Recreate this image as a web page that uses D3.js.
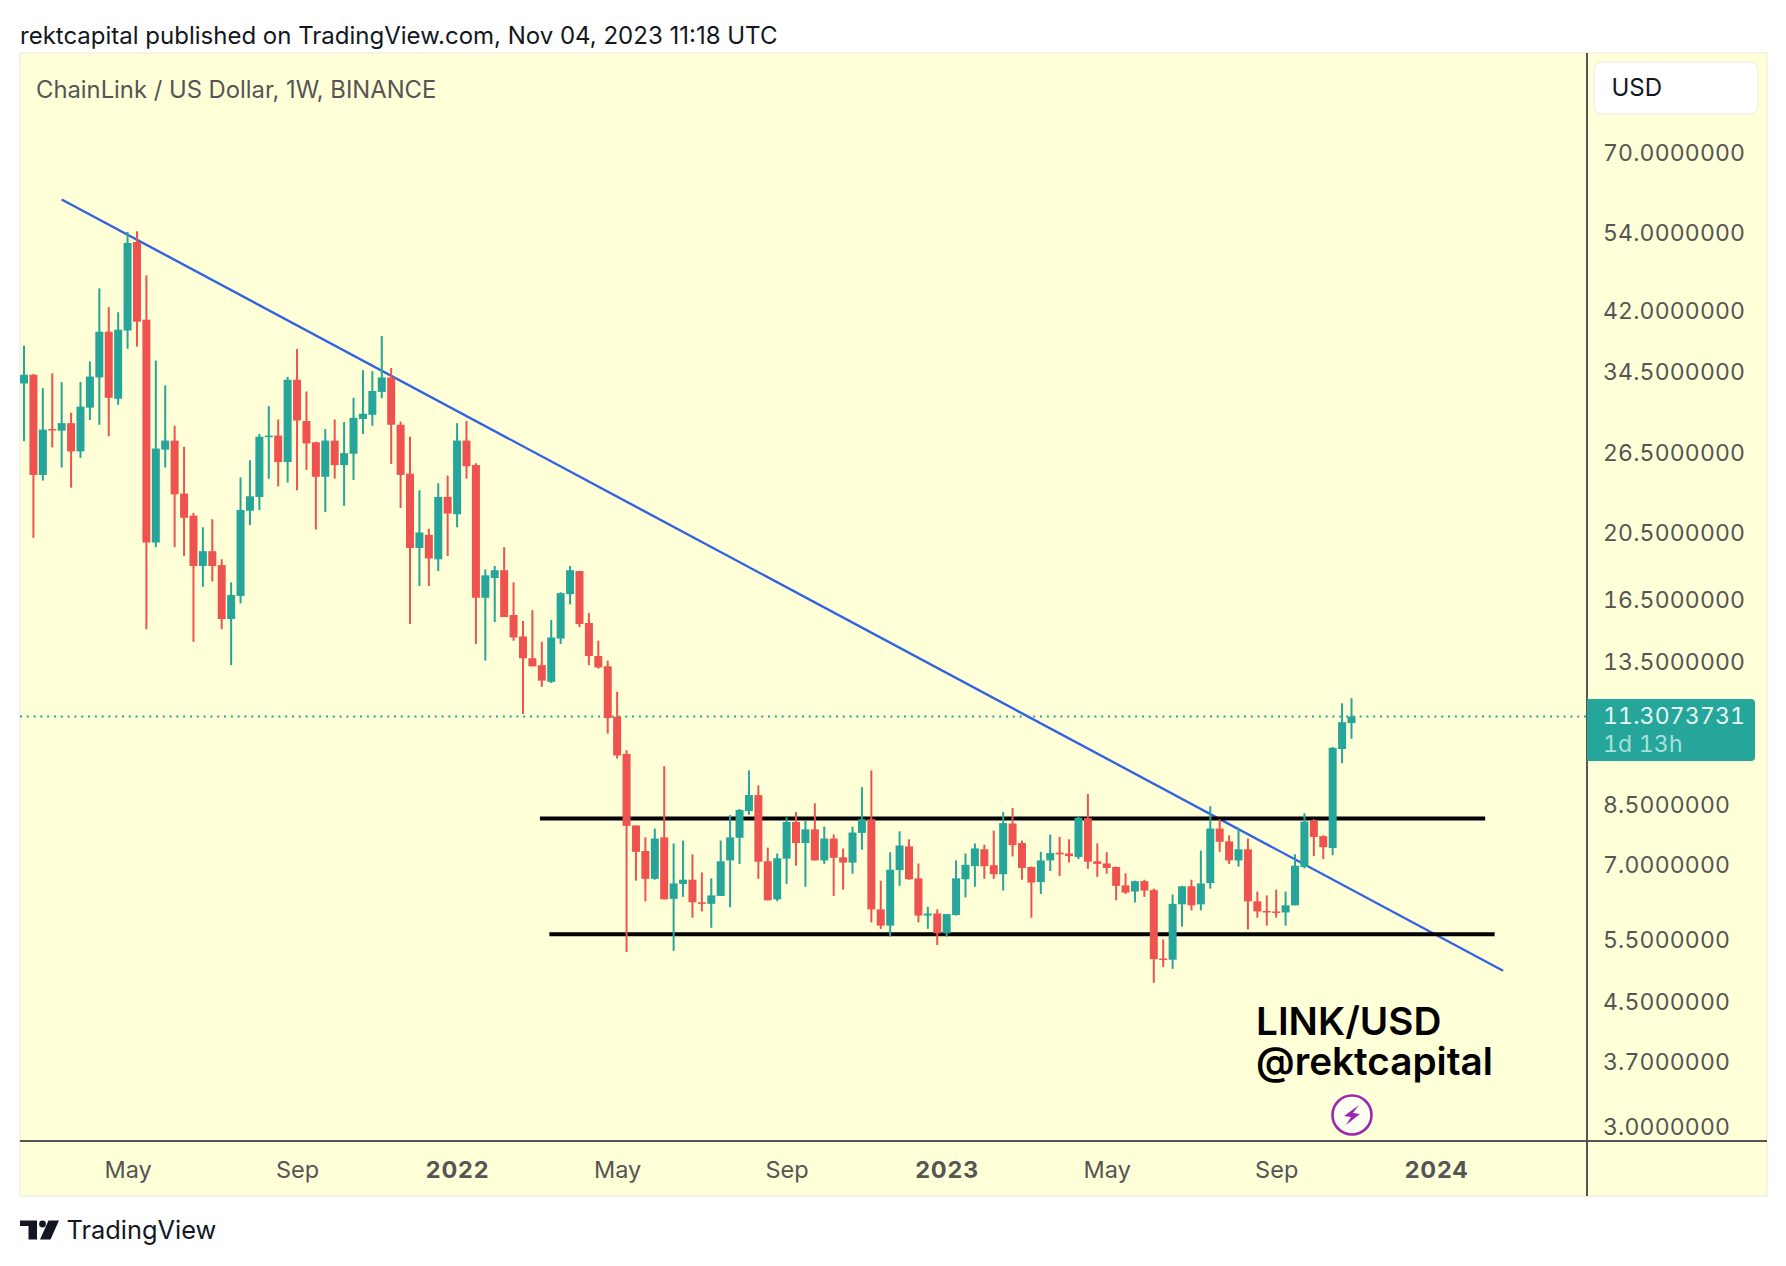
<!DOCTYPE html>
<html lang="en">

<head>
    <meta charset="UTF-8">
    <title>LINK/USD weekly</title>
    <script src="https://cdn.jsdelivr.net/npm/d3@7"></script>
    <style>
        body {
            margin: 0;
            padding: 0;
            background: #fff;
            overflow: hidden;
        }

        svg {
            display: block;
            font-family: Inter, sans-serif;
        }

        .tnum {
            font-variant-numeric: tabular-nums;
            font-feature-settings: "tnum" 1;
        }
    </style>
</head>

<body>
    <svg id="chart" width="1786" height="1266"></svg>

    <script>
        // weekly bars, first bar mid Feb 2021, last bar is the live one
        var open = [33.2,34.15,24.7,28.65,28.5,29.2,26.65,30.7,33.85,39.25,
            31.6,39.4,52.45,40.8,19.85,26.8,27.6,23.25,21.65,18.4,
            19.3,18.45,15.5,16.7,22.0,23.0,27.9,28.05,25.75,33.6,
            29.4,27.45,24.55,27.6,25.5,26.45,29.6,30.0,32.3,33.85,
            29.05,24.8,19.5,20.35,18.8,23.0,21.75,27.6,25.5,16.6,
            17.7,18.15,15.7,14.65,13.65,13.35,12.65,14.55,16.8,18.1,
            15.3,13.75,13.3,11.3,10.02,7.95,7.32,6.69,7.65,6.27,
            6.58,6.67,6.2,6.17,6.33,7.1,7.64,8.33,8.77,7.08,
            6.26,7.14,8.04,7.51,7.85,7.1,7.62,7.17,7.05,7.76,
            8.11,6.06,5.75,6.88,7.43,6.7,5.94,5.98,5.61,5.95,
            6.68,6.97,7.36,6.99,6.79,8.0,7.51,6.95,6.62,7.1,
            7.28,7.26,7.18,8.14,7.08,7.03,6.95,6.55,6.42,6.64,
            6.45,5.17,5.15,6.16,6.53,6.16,6.6,7.87,7.55,7.1,
            7.36,6.22,6.03,6.02,6.0,6.14,6.95,8.07,7.68,7.39,
            10.18,11.07];
        var high = [37.5,34.25,32.7,34.3,33.35,30.2,33.35,35.65,45.15,42.5,
            41.8,54.2,54.3,47.1,35.75,33.0,28.95,27.05,21.85,20.85,
            21.4,18.8,17.45,24.5,25.9,28.2,30.85,29.55,33.9,37.1,
            32.35,27.5,28.65,29.55,29.3,31.7,34.65,34.55,38.7,34.9,
            29.35,27.95,23.5,20.75,24.05,24.65,29.2,29.4,25.65,18.2,
            18.4,19.55,17.45,15.4,15.95,14.4,15.45,16.9,18.4,18.1,
            15.8,14.45,13.55,12.25,10.14,7.95,7.65,7.87,9.63,7.5,
            7.57,7.24,6.83,6.7,7.57,8.22,8.38,9.5,9.05,7.4,
            7.26,8.16,8.3,8.07,8.54,7.92,7.72,7.38,7.92,9.0,
            9.5,6.65,7.29,7.8,7.6,7.03,6.11,6.06,5.97,7.1,
            7.26,7.5,7.47,7.82,8.3,8.41,7.57,6.96,7.3,7.72,
            7.66,7.6,8.19,8.8,7.5,7.29,6.96,6.81,6.65,6.67,
            6.48,5.5,6.36,6.54,6.67,7.33,8.46,8.11,7.7,7.89,
            7.62,6.42,6.34,6.46,6.42,7.24,8.27,8.11,7.7,10.25,
            11.8,12.0];
        var low = [27.55,20.15,24.25,27.0,25.3,23.7,26.1,29.5,29.05,28.0,
            31.0,37.15,37.4,15.0,19.55,25.3,19.55,19.0,14.4,17.2,
            17.5,15.0,13.35,16.3,21.0,22.05,24.4,23.8,24.1,23.5,
            25.1,20.7,21.9,24.4,22.35,24.3,28.2,28.95,31.65,25.6,
            22.2,15.25,17.25,17.25,18.1,19.0,20.85,24.4,14.3,13.55,
            15.35,15.6,14.45,11.4,13.3,12.45,12.6,14.3,16.25,15.1,
            13.35,13.2,10.7,9.87,5.28,6.65,6.22,6.67,6.26,5.3,
            6.31,5.9,6.02,5.71,6.33,6.1,7.02,8.23,6.69,6.24,
            6.22,6.58,6.98,6.52,7.1,7.02,6.33,6.46,6.8,7.35,
            5.81,5.69,5.55,6.54,6.67,5.81,5.69,5.4,5.55,5.94,
            6.3,6.52,6.69,6.69,6.44,7.19,6.67,5.9,6.37,6.86,
            6.75,7.05,7.13,6.91,6.73,6.8,6.24,6.37,6.2,6.31,
            4.78,5.03,5.0,5.73,6.04,6.04,6.48,7.3,7.02,6.96,
            5.68,5.9,5.75,5.9,5.75,6.14,6.92,7.2,7.13,7.22,
            9.72,10.52];
        var close = [34.15,24.7,28.6,28.55,29.2,26.65,30.8,33.95,39.25,31.7,
            39.5,52.3,40.55,19.85,26.9,27.6,23.2,21.5,18.4,19.3,
            18.4,15.5,16.75,22.05,23.05,27.95,28.05,25.75,33.6,29.45,
            27.35,24.55,27.6,25.5,26.5,29.7,30.1,32.4,33.85,29.05,
            24.7,19.5,20.5,18.85,23.0,21.8,27.6,25.4,16.6,17.85,
            18.15,15.6,14.6,13.65,13.3,12.7,14.6,16.85,18.15,15.25,
            13.75,13.25,11.25,9.97,7.94,7.3,6.69,7.62,6.26,6.59,
            6.67,6.2,6.17,6.34,7.08,7.65,8.36,8.77,7.07,6.24,
            7.15,8.04,7.51,7.85,7.1,7.62,7.16,7.05,7.77,8.11,
            6.06,5.75,6.89,7.45,6.68,5.94,5.98,5.61,5.97,6.7,
            7.0,7.38,6.97,6.79,8.01,7.46,6.93,6.61,7.1,7.27,
            7.24,7.2,8.15,7.07,7.02,6.93,6.54,6.4,6.64,6.44,
            5.16,5.15,6.17,6.53,6.14,6.59,7.87,7.54,7.1,7.36,
            6.22,6.02,6.0,6.0,6.14,6.98,8.05,7.66,7.41,10.22,
            11.1,11.31];

        var priceTicks = [70, 54, 42, 34.5, 26.5, 20.5, 16.5, 13.5, 8.5, 7, 5.5, 4.5, 3.7, 3];
        var timeTickBars = [11, 29, 46, 63, 81, 98, 115, 133, 150];
        var timeTickLabels = ["May", "Sep", "2022", "May", "Sep", "2023", "May", "Sep", "2024"];
        var lastPrice = 11.3073731;

        // drawings on the chart, [bar, price]
        var trendLine = [[4, 60.2], [157.1, 4.97]];
        var rangeTop = [[54.8, 8.13], [155.2, 8.13]];
        var rangeBottom = [[55.8, 5.59], [156.2, 5.59]];

        var svg = d3.select("#chart");
        var upColor = "#26a69a", downColor = "#ef5350";
        var textColor = "#555555";

        var frameL = 20, frameR = 1767, frameT = 53, frameB = 1196;
        var axisX = 1587, axisY = 1141;

        var xScale = d3.scaleLinear().domain([0, 141]).range([24, 1351.5]);
        var yScale = d3.scaleLog().domain([70, 3]).range([152.8, 1126.8]);

        // frame
        svg.append("rect")
            .attr("x", frameL).attr("y", frameT)
            .attr("width", frameR - frameL).attr("height", frameB - frameT)
            .attr("fill", "#ffffd8").attr("stroke", "#f1f1e4").attr("stroke-width", 1.5);

        // current price line
        svg.append("line")
            .attr("x1", frameL).attr("x2", axisX)
            .attr("y1", yScale(lastPrice)).attr("y2", yScale(lastPrice))
            .attr("stroke", upColor).attr("stroke-width", 2).attr("stroke-dasharray", "2 4.8");

        var drawing = d3.line().x(d => xScale(d[0])).y(d => yScale(d[1]));

        svg.append("path").attr("d", drawing(trendLine))
            .attr("fill", "none").attr("stroke", "#3363e4").attr("stroke-width", 2.4);

        [rangeTop, rangeBottom].forEach(r => {
            svg.append("path").attr("d", drawing(r))
                .attr("fill", "none").attr("stroke", "#000").attr("stroke-width", 4);
        });

        // candles
        var bars = open.map((o, i) => ({ i: i, o: o, h: high[i], l: low[i], c: close[i] }));
        var barWidth = 8;
        var candle = svg.append("g").selectAll("g").data(bars).join("g")
            .attr("fill", d => d.c >= d.o ? upColor : downColor);

        candle.append("rect")
            .attr("x", d => xScale(d.i) - 1)
            .attr("width", 2)
            .attr("y", d => yScale(d.h))
            .attr("height", d => yScale(d.l) - yScale(d.h));

        candle.append("rect")
            .attr("x", d => xScale(d.i) - barWidth / 2)
            .attr("width", barWidth)
            .attr("y", d => yScale(Math.max(d.o, d.c)))
            .attr("height", d => Math.max(1.5, Math.abs(yScale(d.o) - yScale(d.c))));

        // axis border lines
        svg.append("line").attr("x1", frameL).attr("x2", frameR).attr("y1", axisY).attr("y2", axisY)
            .attr("stroke", textColor).attr("stroke-width", 2);
        svg.append("line").attr("x1", axisX).attr("x2", axisX).attr("y1", frameT).attr("y2", frameB)
            .attr("stroke", textColor).attr("stroke-width", 2);

        // price axis
        var yAxis = svg.append("g")
            .attr("transform", "translate(" + axisX + ",0.4)")
            .call(d3.axisRight(yScale).tickValues(priceTicks).tickSize(0).tickPadding(16)
                .tickFormat(d => d.toFixed(7)));
        yAxis.select(".domain").remove();
        yAxis.selectAll("text")
            .attr("class", "tnum")
            .attr("fill", textColor).attr("font-size", 23).attr("letter-spacing", 0.18)
            .attr("font-family", "Inter, sans-serif");

        // time axis
        var xAxis = svg.append("g")
            .attr("transform", "translate(0," + axisY + ")")
            .call(d3.axisBottom(xScale).tickValues(timeTickBars).tickSize(0).tickPadding(20)
                .tickFormat((d, i) => timeTickLabels[i]));
        xAxis.select(".domain").remove();
        xAxis.selectAll("text")
            .attr("fill", textColor).attr("font-size", 23.5)
            .attr("font-family", "Inter, sans-serif")
            .attr("font-weight", (d, i) => timeTickLabels[i].length == 4 ? 700 : 400)
            .attr("letter-spacing", (d, i) => timeTickLabels[i].length == 4 ? 0.8 : 0);

        // last price tag
        svg.append("path")
            .attr("d", "M" + axisX + ",699H1751a4,4 0 0 1 4,4V757a4,4 0 0 1 -4,4H" + axisX + "Z")
            .attr("fill", upColor);
        svg.append("text").attr("x", 1603).attr("y", 723.5).attr("class", "tnum")
            .attr("fill", "#e6f6f4").attr("font-size", 23).attr("letter-spacing", 0.18)
            .text(lastPrice.toFixed(7));
        svg.append("text").attr("x", 1603).attr("y", 751.5).attr("class", "tnum")
            .attr("fill", "#a8e0da").attr("font-size", 23).attr("letter-spacing", 0.18)
            .text("1d 13h");

        // currency box
        svg.append("rect")
            .attr("x", 1594).attr("y", 62).attr("width", 164).attr("height", 52).attr("rx", 8)
            .attr("fill", "#fff").attr("stroke", "#f1f1e4").attr("stroke-width", 1.5);
        svg.append("text").attr("x", 1611.5).attr("y", 95.5)
            .attr("fill", "#131722").attr("font-size", 24).text("USD");

        // header and legend
        svg.append("text").attr("x", 20).attr("y", 43.5)
            .attr("fill", "#131722").attr("font-size", 24).text("rektcapital published on TradingView.com, Nov 04, 2023 11:18 UTC");
        svg.append("text").attr("x", 36).attr("y", 97.5)
            .attr("fill", textColor).attr("font-size", 23.8).text("ChainLink / US Dollar, 1W, BINANCE");

        // annotation, two lines of one label
        var note = svg.append("text").attr("fill", "#000").attr("font-size", 38.7).attr("font-weight", 600);
        note.append("tspan").attr("x", 1256).attr("y", 1035).text("LINK/USD");
        note.append("tspan").attr("x", 1256).attr("y", 1075).text("@rektcapital");

        // author badge
        var badge = svg.append("g").attr("transform", "translate(1352,1115)");
        badge.append("circle").attr("r", 19.5).attr("fill", "#fffff2")
            .attr("stroke", "#9c27b0").attr("stroke-width", 2.6);
        badge.append("path").attr("d", "M7,-10L-8,1L-1,2L-6,10L8,-1L1,-2Z").attr("fill", "#9c27b0");

        // TradingView logo
        var logo = svg.append("g").attr("fill", "#131722");
        logo.append("path").attr("d", "M20,1220.5H37V1239.5H28.5V1226H20Z");
        logo.append("circle").attr("cx", 42.5).attr("cy", 1224).attr("r", 3.4);
        logo.append("path").attr("d", "M48.5,1220.5H59L50.5,1239.5H40Z");
        svg.append("text").attr("x", 66.5).attr("y", 1239)
            .attr("fill", "#131722").attr("font-size", 25.4).text("TradingView");
    </script>
</body>

</html>
